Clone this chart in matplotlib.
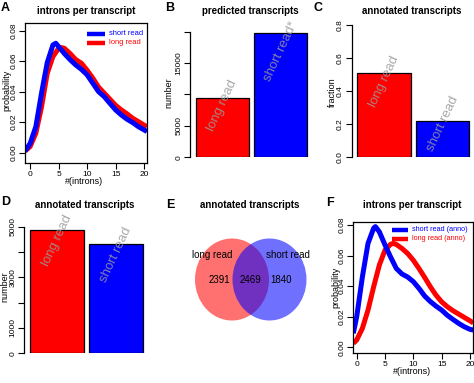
import matplotlib.pyplot as plt
from matplotlib.patches import Ellipse

plt.rcParams['font.family'] = ['Liberation Sans', 'DejaVu Sans']

# panel A: introns per transcript (all transcripts)
a_short_x = [-0.9, 0, 1, 2, 3, 4, 4.5, 5, 6, 7, 8, 9, 10, 11, 12, 13, 14, 15, 16, 17, 18, 19, 20, 20.5]
a_short_y = [0.001, 0.006, 0.017, 0.039, 0.059, 0.0706, 0.0717, 0.0695, 0.065, 0.061, 0.0575, 0.0546,
             0.051, 0.0455, 0.040, 0.0367, 0.0323, 0.028, 0.0247, 0.0219, 0.0197, 0.017, 0.0149, 0.0138]
a_long_x = [-0.9, 0, 1, 2, 3, 4, 5, 5.5, 6, 7, 8, 9, 10, 11, 12, 13, 14, 15, 16, 17, 18, 19, 20, 20.5]
a_long_y = [0.001, 0.004, 0.0127, 0.030, 0.052, 0.063, 0.0684, 0.0689, 0.0684, 0.065, 0.061, 0.0586,
            0.054, 0.0488, 0.043, 0.039, 0.035, 0.031, 0.028, 0.0254, 0.0225, 0.0203, 0.018, 0.017]

# panel F: introns per transcript (annotated)
f_short_x = [-0.6, 0, 1, 2, 3, 3.3, 4, 5, 6, 7, 8, 9, 10, 11, 12, 13, 14, 15, 16, 17, 18, 19, 20, 20.6]
f_short_y = [0.0092, 0.020, 0.046, 0.068, 0.078, 0.079, 0.0756, 0.067, 0.059, 0.0516, 0.048, 0.046,
             0.043, 0.0386, 0.0336, 0.030, 0.027, 0.0244, 0.021, 0.0183, 0.0157, 0.0135, 0.0118, 0.0113]
f_long_x = [-0.6, 0, 1, 2, 3, 4, 5, 6, 6.5, 7, 8, 9, 10, 11, 12, 13, 14, 15, 16, 17, 18, 19, 20, 20.6]
f_long_y = [0.0026, 0.0048, 0.0124, 0.0244, 0.0397, 0.0538, 0.0636, 0.0675, 0.068, 0.0673, 0.0647, 0.0614,
            0.057, 0.0516, 0.0458, 0.0397, 0.0342, 0.0298, 0.0266, 0.024, 0.0218, 0.0196, 0.0174, 0.016]

# bar panels
predicted = [9490, 19745]
annotated = [4860, 4309]
fraction = [annotated[0] / predicted[0], annotated[1] / predicted[1]]

# venn counts
venn_only_long = 2391
venn_both = 2469
venn_only_short = 1840

RED = '#FF0000'
BLUE = '#0000FF'
TXT_GRAY = '#9a9a9a'

W, H = 474, 383
fig = plt.figure(figsize=(W / 100, H / 100), dpi=100)


def box(l, t, r, b):
    # axes placed by pixel edges
    return fig.add_axes([l / W, 1 - b / H, (r - l) / W, (b - t) / H])


def ftext(x, y, s, **kw):
    kw.setdefault('ha', 'center')
    kw.setdefault('va', 'center')
    fig.text(x / W, 1 - y / H, s, **kw)


def style_ticks(ax):
    ax.tick_params(direction='out', length=4, width=0.8, labelsize=6, pad=1.5)
    for lab in ax.get_yticklabels():
        lab.set_rotation(90)
        lab.set_va('center')


def density_panel(rect, xlim, ylim, curves, leg_x, leg_y, legend_fs):
    ax = box(*rect)
    for xs, ys, col, lab in curves:
        ax.plot(xs, ys, color=col, lw=3.6, solid_joinstyle='round', solid_capstyle='butt')
    ax.set_xlim(*xlim)
    ax.set_ylim(*ylim)
    ax.set_xticks([0, 5, 10, 15, 20])
    ax.set_yticks([0, 0.02, 0.04, 0.06, 0.08], ['0.00', '0.02', '0.04', '0.06', '0.08'])
    for sp in ax.spines.values():
        sp.set_linewidth(0.9)
    style_ticks(ax)
    # legend: short read on top, long read below
    order = [c for c in curves if c[3].startswith('short')] + [c for c in curves if c[3].startswith('long')]
    for (xs, ys, col, lab), yy in zip(order, leg_y):
        ax.plot(leg_x[:2], [yy, yy], color=col, lw=3.2, solid_capstyle='butt')
        ax.text(leg_x[2], yy, lab, color=col, fontsize=legend_fs, va='center', ha='left')
    return ax


# ---- A ----
axA = density_panel((25, 23, 147, 163), (-0.9, 20.5), (-0.0068, 0.085),
                    [(a_long_x, a_long_y, RED, 'long read'),
                     (a_short_x, a_short_y, BLUE, 'short read')],
                    (10.0, 13.2, 13.8), (0.0780, 0.0719), 5.4)
ftext(5, 8, 'A', fontsize=9, fontweight='bold')
ftext(86, 11, 'introns per transcript', fontsize=7, fontweight='bold')
ftext(84, 182, '#(introns)', fontsize=6.5)
ftext(7, 90, 'probability', fontsize=6.5, rotation=90)


def bar_panel(rect, vals, ylim, ticks, ticklabels):
    ax = box(*rect)
    ax.bar([0, 1], vals, width=0.91, color=[RED, BLUE], edgecolor='black', linewidth=0.9)
    ax.set_xlim(-0.55, 1.5)
    ax.set_ylim(*ylim)
    for s in ('top', 'right', 'bottom'):
        ax.spines[s].set_visible(False)
    ax.spines['left'].set_bounds(ticks[0], ticks[-1])
    ax.spines['left'].set_linewidth(0.9)
    ax.set_xticks([])
    ax.set_yticks(ticks, ticklabels)
    style_ticks(ax)
    ax.patch.set_alpha(0)
    return ax


def bar_label(ax, i, y, s):
    ax.text(i, y, s, rotation=65, color=TXT_GRAY, alpha=0.85, fontsize=9.5, ha='center', va='center')


# ---- B ----
axB = bar_panel((190, 31.7, 310, 157.3), predicted, (0, 20000),
                [0, 5000, 10000, 15000, 20000], ['0', '5000', '', '15000', ''])
bar_label(axB, 0, 8200, 'long read')
bar_label(axB, 1, 16800, 'short read*')
ftext(170, 8, 'B', fontsize=9, fontweight='bold')
ftext(250, 11, 'predicted transcripts', fontsize=7, fontweight='bold')
ftext(169, 93, 'number', fontsize=6.5, rotation=90)

# ---- C ----
axC = bar_panel((351.7, 25, 472, 157.3), fraction, (0, 0.8),
                [0, 0.2, 0.4, 0.6, 0.8], ['0.0', '0.2', '0.4', '0.6', '0.8'])
bar_label(axC, 0, 0.46, 'long read')
bar_label(axC, 1, 0.20, 'short read')
ftext(318, 8, 'C', fontsize=9, fontweight='bold')
ftext(412, 11, 'annotated transcripts', fontsize=7, fontweight='bold')
ftext(332, 92, 'fraction', fontsize=6.5, rotation=90)

# ---- D ----
axD = bar_panel((24.3, 226.7, 146, 353.3), annotated, (0, 5000),
                [0, 1000, 2000, 3000, 4000, 5000], ['0', '1000', '', '3000', '', '5000'])
bar_label(axD, 0, 4450, 'long read')
bar_label(axD, 1, 3880, 'short read')
ftext(6, 202, 'D', fontsize=9, fontweight='bold')
ftext(85, 205.5, 'annotated transcripts', fontsize=7, fontweight='bold')
ftext(5, 287, 'number', fontsize=6.5, rotation=90)

# ---- E ----
axE = box(155, 190, 315, 383)
axE.set_xlim(0, 160)
axE.set_ylim(193, 0)
axE.axis('off')
axE.add_patch(Ellipse((77, 89.5), 74, 82, facecolor=RED, alpha=0.56, edgecolor='none'))
axE.add_patch(Ellipse((114.5, 89.5), 74, 82, facecolor=BLUE, alpha=0.56, edgecolor='none'))
axE.text(57, 65, 'long read', fontsize=7, ha='center', va='center')
axE.text(133, 65, 'short read', fontsize=7, ha='center', va='center')
axE.text(64, 90, str(venn_only_long), fontsize=7, ha='center', va='center')
axE.text(95, 90, str(venn_both), fontsize=7, ha='center', va='center')
axE.text(126, 90, str(venn_only_short), fontsize=7, ha='center', va='center')
ftext(170, 205, 'E', fontsize=9, fontweight='bold')
ftext(250, 205, 'annotated transcripts', fontsize=7, fontweight='bold')

# ---- F ----
axF = density_panel((353.3, 221.7, 473.3, 353.3), (-0.6, 20.6), (-0.0039, 0.0822),
                    [(f_long_x, f_long_y, RED, 'long read (anno)'),
                     (f_short_x, f_short_y, BLUE, 'short read (anno)')],
                    (6.2, 9.1, 9.7), (0.0768, 0.0711), 5.2)
ftext(330, 203, 'F', fontsize=9, fontweight='bold')
ftext(412, 205, 'introns per transcript', fontsize=7, fontweight='bold')
ftext(412, 372, '#(introns)', fontsize=6.5)
ftext(336, 287, 'probability', fontsize=6.5, rotation=90)

plt.savefig('out.png', dpi=100)
